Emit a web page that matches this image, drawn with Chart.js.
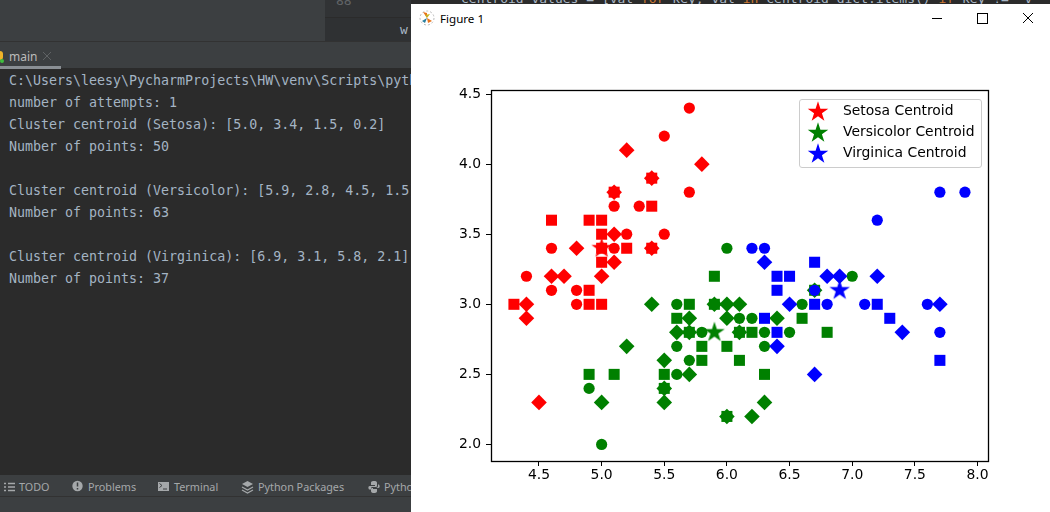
<!DOCTYPE html>
<html>
<head>
<meta charset="utf-8">
<script src="https://cdn.jsdelivr.net/npm/chart.js@4"></script>
<style>
  html, body { margin: 0; padding: 0; background: #2b2b2b; }
  #page { position: relative; width: 1050px; height: 512px; overflow: hidden; background: #2b2b2b; font-family: "Noto Sans", sans-serif; }
  .abs { position: absolute; }
  #toolbar { left: 0; top: 0; width: 411px; height: 41px; background: #3c3f41; }
  #editorTop { left: 325px; top: 0; width: 86px; height: 17px; background: #313335; border-bottom: 1px solid #2b2b2b; }
  #editorTop2 { left: 325px; top: 18px; width: 86px; height: 23px; background: #2f3133; }
  #tabs { left: 0; top: 41px; width: 411px; height: 27px; background: #3c3f41; border-top: 1px solid #323232; box-sizing: border-box; }
  #tabLine { left: 0; top: 66px; width: 61px; height: 3px; background: #8a8f94; }
  #console { left: 9px; top: 70px; width: 402px; height: 400px; overflow: hidden; margin: 0; color: #a4b4c4; font: 13.3px/22px "DejaVu Sans Mono", monospace; white-space: pre; }
  #bottomBar { left: 0; top: 475px; width: 411px; height: 37px; background: #3c3f41; }
  #bottomLine { left: 0; top: 496px; width: 411px; height: 1px; background: #323232; }
  .tool { top: 478px; color: #a5a8aa; font-size: 10.8px; line-height: 18px; white-space: nowrap; }
  .toolIcon { position: absolute; top: 480px; }
  #window { left: 411px; top: 4px; width: 639px; height: 508px; background: #fff; }
  #chartBox { left: 411px; top: 32px; width: 639px; height: 480px; }
  #title { left: 440px; top: 10px; font-size: 11.6px; line-height: 17px; color: #000; }
  #legend { left: 799px; top: 99px; width: 181px; height: 67px; background: #fff; border: 1px solid #ccc; border-radius: 3px; }
  .legendRow { position: absolute; left: 43px; font: 13.9px/21px "DejaVu Sans", sans-serif; color: #000; white-space: nowrap; }
  .legendRow canvas { position: absolute; left: -37px; top: 0; }
</style>
</head>
<body>
<div id="page">
  <div class="abs" id="toolbar"></div>
  <div class="abs" id="editorTop"></div>
  <div class="abs" id="editorTop2"></div>
  <div class="abs" style="left:336px;top:-7px;color:#606366;font:13px/16px 'DejaVu Sans Mono',monospace">88</div>
  <div class="abs" style="left:400px;top:22px;color:#a9b7c6;font:13px/16px 'DejaVu Sans Mono',monospace">w</div>
  <div class="abs" id="tabs"></div>
  <div class="abs" style="left:-4px;top:51px;width:7px;height:9px;background:#f0b429;border-radius:3px"></div>
  <div class="abs" style="left:0;top:59px;width:4px;height:4px;background:#3fbf3f;border-radius:2px"></div>
  <div class="abs" style="left:9px;top:48px;color:#bbbbbb;font-size:12px;line-height:18px">main</div>
  <svg class="abs" style="left:42px;top:51px" width="10" height="10" viewBox="0 0 10 10"><path d="M1 1 L9 9 M9 1 L1 9" stroke="#5f6264"/></svg>
  <div class="abs" id="tabLine"></div>
  <pre class="abs" id="console"></pre>
  <div class="abs" id="bottomBar"></div>
  <div class="abs" id="bottomLine"></div>

  <svg class="toolIcon" style="left:4px" width="11" height="14" viewBox="0 0 11 14"><path d="M0 3.5 H2 M4 3.5 H11 M0 7 H2 M4 7 H11 M0 10.5 H2 M4 10.5 H11" stroke="#a5a8aa" stroke-width="1.6"/></svg>
  <div class="abs tool" style="left:19px">TODO</div>
  <svg class="toolIcon" style="left:72px" width="11" height="14" viewBox="0 0 11 14"><circle cx="5.5" cy="6" r="5.2" fill="#a5a8aa"/><path d="M5.5 2.5 V6.5 M5.5 8 V9.5" stroke="#3c3f41" stroke-width="1.5"/></svg>
  <div class="abs tool" style="left:88px">Problems</div>
  <svg class="toolIcon" style="left:158px" width="11" height="14" viewBox="0 0 11 14"><rect x="0" y="2" width="11" height="9" fill="#a5a8aa"/><path d="M1.5 3.5 L4 5.5 L1.5 7.5 M5 9 H9" stroke="#3c3f41" fill="none"/></svg>
  <div class="abs tool" style="left:174px">Terminal</div>
  <svg class="toolIcon" style="left:241px" width="13" height="14" viewBox="0 0 13 14"><path d="M6.5 1 L12 4 L6.5 7 L1 4 Z" fill="#a5a8aa"/><path d="M1 7 L6.5 10 L12 7 M1 10 L6.5 13 L12 10" stroke="#a5a8aa" fill="none" stroke-width="1.2"/></svg>
  <div class="abs tool" style="left:258px">Python Packages</div>
  <svg class="toolIcon" style="left:368px" width="12" height="14" viewBox="0 0 12 14"><path d="M6 1 C3 1 3 2 3 3.5 V5 H7 V6 H2 C0 6 0 8 1 9.5 H3 V8 C3 7 4 7 5 7 H8 C9 7 9 6 9 5 V3 C9 1.5 8 1 6 1 Z" fill="#a5a8aa"/><path d="M6 13 C9 13 9 12 9 10.5 V9 H5 V8 H10 C12 8 12 6 11 4.5 H10 V6 C10 7 9 8 8 8 H5 C4 8 3 8 3 9 V11 C3 12.5 4 13 6 13 Z" fill="#a5a8aa"/></svg>
  <div class="abs tool" style="left:384px;width:27px;overflow:hidden">Python</div>

  <div class="abs" style="left:461px;top:-9px;color:#a9b7c6;font:13px/16px 'DejaVu Sans Mono',monospace;white-space:pre">centroid_values = [val <span style="color:#cc7832">for</span> key, val <span style="color:#cc7832">in</span> centroid_dict.items() <span style="color:#cc7832">if</span> key != 'v</div>
  <div class="abs" id="window"></div>
  <svg class="abs" style="left:419px;top:10px" width="16" height="16" viewBox="0 0 16 16">
    <circle cx="8" cy="8" r="7" fill="none" stroke="#bbb" stroke-dasharray="2 2"/>
    <path d="M8 8 L4 2 L8 3 Z" fill="#e8731a"/>
    <path d="M8 8 L13 11 L9 13 Z" fill="#e8731a"/>
    <path d="M8 8 L11 4 L6 5 Z" fill="#c8b020"/>
    <path d="M8 8 L3 11 L6 13 Z" fill="#2a7f9e"/>
  </svg>
  <div class="abs" id="title">Figure 1</div>
  <svg class="abs" style="left:930px;top:11px" width="14" height="14" viewBox="0 0 14 14"><path d="M2 7.5 H12" stroke="#000" stroke-width="1"/></svg>
  <div class="abs" style="left:977px;top:13px;width:9px;height:9px;border:1px solid #000"></div>
  <svg class="abs" style="left:1022px;top:12px" width="12" height="12" viewBox="0 0 12 12"><path d="M1 1 L11 11 M11 1 L1 11" stroke="#000" stroke-width="1"/></svg>

  <div class="abs" id="chartBox"><canvas id="chart" width="639" height="480"></canvas></div>
  <div class="abs" id="legend"></div>
</div>
<script>
// console output
const consoleLines = [
  'C:\\Users\\leesy\\PycharmProjects\\HW\\venv\\Scripts\\python.exe',
  'number of attempts: 1',
  'Cluster centroid (Setosa): [5.0, 3.4, 1.5, 0.2]',
  'Number of points: 50',
  '',
  'Cluster centroid (Versicolor): [5.9, 2.8, 4.5, 1.5]',
  'Number of points: 63',
  '',
  'Cluster centroid (Virginica): [6.9, 3.1, 5.8, 2.1]',
  'Number of points: 37'
];

// Axis ticks
const xTicks = [4.5, 5.0, 5.5, 6.0, 6.5, 7.0, 7.5, 8.0];
const yTicks = [2.0, 2.5, 3.0, 3.5, 4.0, 4.5];

// Setosa points [sepal length, sepal width]
const setosaCircles = [[5.7,4.4],[5.5,4.2],[5.7,3.8],[5.1,3.7],[5.3,3.7],[5.2,3.5],[5.5,3.5],[4.6,3.4],[5.1,3.4],[4.4,3.2],[4.6,3.1],[4.8,3.1],[4.8,3.0]];
const setosaSquares = [[5.4,3.9],[5.1,3.8],[5.4,3.7],[4.6,3.6],[4.9,3.6],[5.0,3.6],[5.0,3.5],[5.0,3.4],[5.2,3.4],[5.4,3.4],[5.0,3.3],[4.9,3.1],[4.3,3.0],[4.9,3.0],[5.0,3.0]];
const setosaDiamonds = [[5.2,4.1],[5.8,4.0],[5.4,3.9],[5.1,3.8],[5.1,3.5],[4.8,3.4],[5.4,3.4],[5.1,3.3],[4.6,3.2],[4.7,3.2],[5.0,3.2],[4.4,3.0],[4.4,2.9],[4.5,2.3]];

// Versicolor points
const versicolorCircles = [[6.0,3.4],[7.0,3.2],[5.6,3.0],[6.6,3.0],[6.1,2.9],[6.2,2.9],[5.8,2.8],[6.3,2.8],[6.5,2.8],[5.6,2.7],[6.3,2.7],[5.7,2.6],[5.6,2.5],[4.9,2.4],[5.0,2.0]];
const versicolorSquares = [[5.9,3.2],[6.7,3.1],[5.7,3.0],[5.9,3.0],[5.6,2.9],[6.6,2.9],[5.7,2.8],[6.1,2.8],[6.2,2.8],[6.8,2.8],[5.8,2.7],[6.0,2.7],[5.8,2.6],[6.1,2.6],[4.9,2.5],[5.1,2.5],[5.5,2.5],[6.3,2.5],[5.5,2.4],[6.0,2.2]];
const versicolorDiamonds = [[6.7,3.1],[5.4,3.0],[5.9,3.0],[6.0,3.0],[6.1,3.0],[5.7,2.9],[6.0,2.9],[6.4,2.9],[5.6,2.8],[5.7,2.8],[6.1,2.8],[5.2,2.7],[5.5,2.6],[5.7,2.5],[5.5,2.4],[5.0,2.3],[5.5,2.3],[6.3,2.3],[6.0,2.2],[6.2,2.2]];

// Virginica points
const virginicaCircles = [[7.7,3.8],[7.9,3.8],[7.2,3.6],[6.2,3.4],[6.3,3.4],[6.7,3.1],[6.8,3.0],[7.1,3.0],[7.6,3.0],[7.7,2.8]];
const virginicaSquares = [[6.7,3.3],[6.4,3.2],[6.5,3.2],[6.4,3.1],[6.7,3.0],[7.2,3.0],[6.3,2.9],[7.3,2.9],[6.4,2.8],[7.7,2.6]];
const virginicaDiamonds = [[6.3,3.3],[6.8,3.2],[6.9,3.2],[7.2,3.2],[6.5,3.0],[7.7,3.0],[7.4,2.8],[6.4,2.7],[6.7,2.5]];

// Centroids
const centroidNames = ['Setosa Centroid', 'Versicolor Centroid', 'Virginica Centroid'];
const centroidX = [5.0, 5.9, 6.9];
const centroidY = [3.4, 2.8, 3.1];
const colors = ['#ff0000', '#008000', '#0000ff'];

document.getElementById('console').textContent = consoleLines.join('\n');

// Chart.js 'star' is a line cross, so the filled star is a canvas point style
function makeStar(color) {
  const size = 24;
  const c = document.createElement('canvas');
  c.width = size;
  c.height = size;
  const g = c.getContext('2d');
  const outer = 10.8, inner = outer * 0.382;
  g.beginPath();
  for (let i = 0; i < 10; i++) {
    const r = i % 2 ? inner : outer;
    const a = -Math.PI / 2 + i * Math.PI / 5;
    g.lineTo(size / 2 + r * Math.cos(a), size / 2 + r * Math.sin(a));
  }
  g.closePath();
  g.fillStyle = color;
  g.fill();
  return c;
}
const stars = colors.map(makeStar);

function pts(list) {
  return list.map(p => ({ x: p[0], y: p[1] }));
}
function markerSet(list, style, radius, color) {
  return { data: pts(list), pointStyle: style, pointRadius: radius, pointHoverRadius: radius,
           pointBackgroundColor: color, pointBorderWidth: 0, pointBorderColor: color };
}

const R_CIRCLE = 5.6, R_BOX = 7.8;
const datasets = [
  markerSet(setosaCircles, 'circle', R_CIRCLE, colors[0]),
  markerSet(setosaSquares, 'rect', R_BOX, colors[0]),
  markerSet(setosaDiamonds, 'rectRot', R_BOX, colors[0]),
  markerSet(versicolorCircles, 'circle', R_CIRCLE, colors[1]),
  markerSet(versicolorSquares, 'rect', R_BOX, colors[1]),
  markerSet(versicolorDiamonds, 'rectRot', R_BOX, colors[1]),
  markerSet(virginicaCircles, 'circle', R_CIRCLE, colors[2]),
  markerSet(virginicaSquares, 'rect', R_BOX, colors[2]),
  markerSet(virginicaDiamonds, 'rectRot', R_BOX, colors[2])
];
centroidNames.forEach((name, i) => {
  datasets.push(Object.assign(markerSet([[centroidX[i], centroidY[i]]], stars[i], 12, colors[i]), { label: name }));
});
// later datasets sit on top, as in the original plot
datasets.forEach((d, i) => { d.order = -i; });

function axis(min, max, tickValues, size, key, pad) {
  return {
    type: 'linear',
    min: min,
    max: max,
    afterBuildTicks: a => { a.ticks = tickValues.map(v => ({ value: v })); },
    afterFit: a => { a[key] = size; },
    grid: { drawOnChartArea: false, drawTicks: true, tickLength: 5, color: '#000', tickWidth: 1 },
    border: { display: false },
    ticks: {
      color: '#000',
      padding: pad,
      maxRotation: 0,
      autoSkip: false,
      font: { family: '"DejaVu Sans"', size: 13.9 },
      callback: v => v.toFixed(1)
    }
  };
}

// all four axes spines
const framePlugin = {
  id: 'frame',
  afterDraw(chart) {
    const a = chart.chartArea, g = chart.ctx;
    g.save();
    g.strokeStyle = '#000';
    g.lineWidth = 1.3;
    g.strokeRect(a.left + 0.5, a.top + 0.5, a.right - a.left, a.bottom - a.top);
    g.restore();
  }
};

new Chart(document.getElementById('chart'), {
  type: 'scatter',
  data: { datasets: datasets },
  options: {
    responsive: false,
    animation: false,
    devicePixelRatio: 1,
    layout: { padding: { left: 0, top: 58, right: 62, bottom: 21 } },
    plugins: { legend: { display: false }, tooltip: { enabled: false } },
    scales: {
      x: axis(4.117, 8.084, xTicks, 30, 'height', 1),
      y: axis(1.882, 4.529, yTicks, 80, 'width', 5)
    }
  },
  plugins: [framePlugin]
});

// legend inside the axes
const legend = document.getElementById('legend');
centroidNames.forEach((name, i) => {
  const row = document.createElement('div');
  row.className = 'legendRow';
  row.style.top = (i * 21) + 'px';
  row.textContent = name;
  row.appendChild(makeStar(colors[i]));
  legend.appendChild(row);
});
</script>
</body>
</html>
